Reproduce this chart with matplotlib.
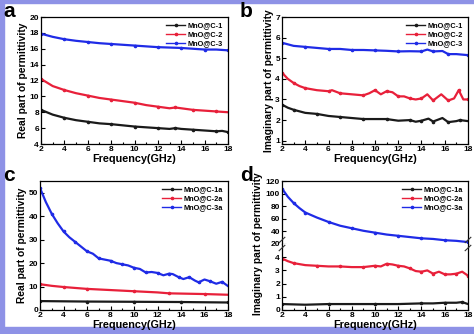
import matplotlib
matplotlib.use("Agg")
import matplotlib.pyplot as plt
from matplotlib.ticker import MultipleLocator
from matplotlib.patches import Rectangle

plt.rcParams['font.family'] = ['Liberation Sans', 'DejaVu Sans']
plt.rcParams['font.weight'] = 'bold'

# ---------------- data ----------------
# panel a (real part)
a_x1 = [2, 3, 4, 5, 6, 7, 8, 9, 10, 11, 12, 13, 13.5, 14, 15, 16, 17, 17.5, 18]
a_y1 = [8.3, 7.7, 7.3, 7.0, 6.8, 6.6, 6.5, 6.35, 6.2, 6.1, 6.0, 5.9, 6.0, 5.9, 5.8, 5.7, 5.6, 5.65, 5.5]
a_x2 = [2, 3, 4, 5, 6, 7, 8, 9, 10, 11, 12, 13, 13.5, 14, 15, 16, 17, 18]
a_y2 = [12.2, 11.3, 10.8, 10.4, 10.1, 9.8, 9.6, 9.4, 9.2, 8.9, 8.7, 8.5, 8.6, 8.5, 8.3, 8.2, 8.1, 8.0]
a_x3 = [2, 3, 4, 5, 6, 7, 8, 9, 10, 11, 12, 13, 14, 15, 16, 17, 18]
a_y3 = [17.9, 17.5, 17.2, 17.0, 16.85, 16.7, 16.6, 16.5, 16.4, 16.3, 16.2, 16.15, 16.1, 16.0, 15.9, 15.9, 15.8]

# panel b (imaginary part)
b_x1 = [2, 2.5, 3, 4, 5, 6, 7, 8, 9, 10, 11, 12, 13, 13.5, 14, 14.6, 15, 15.8, 16.3, 17, 17.3, 18]
b_y1 = [2.75, 2.6, 2.5, 2.35, 2.3, 2.2, 2.15, 2.1, 2.05, 2.05, 2.05, 1.97, 2.0, 1.92, 1.97, 2.07, 1.93, 2.1, 1.9, 1.95, 2.0, 1.95]
b_x2 = [2, 2.5, 3, 3.5, 4, 5, 6, 6.3, 7, 8, 9, 9.5, 10, 10.5, 11, 11.5, 12, 12.5, 13, 13.5, 14, 14.5, 15, 15.7, 16.3, 16.8, 17.2, 17.6, 18]
b_y2 = [4.3, 4.0, 3.8, 3.65, 3.55, 3.45, 3.4, 3.45, 3.3, 3.25, 3.2, 3.3, 3.45, 3.25, 3.4, 3.35, 3.15, 3.15, 3.05, 3.0, 3.05, 3.25, 2.95, 3.25, 2.95, 3.05, 3.45, 3.0, 3.0]
b_x3 = [2, 3, 4, 5, 6, 7, 8, 9, 10, 11, 12, 13, 14, 14.5, 15, 15.8, 16.3, 17, 18]
b_y3 = [5.75, 5.6, 5.55, 5.5, 5.45, 5.45, 5.4, 5.4, 5.38, 5.36, 5.33, 5.34, 5.33, 5.42, 5.33, 5.35, 5.2, 5.2, 5.15]

# panel c (real part, "a" samples)
c_x1 = [2, 4, 6, 8, 10, 12, 14, 16, 18]
c_y1 = [3.8, 3.7, 3.6, 3.55, 3.5, 3.45, 3.4, 3.3, 3.2]
c_x2 = [2, 3, 4, 5, 6, 8, 10, 12, 13, 14, 16, 18]
c_y2 = [11.0, 10.3, 9.8, 9.4, 9.0, 8.5, 8.0, 7.5, 7.1, 7.0, 6.8, 6.5]
c_x3 = [2, 2.5, 3, 3.5, 4, 4.5, 5, 5.5, 6, 6.5, 7, 7.5, 8, 8.5, 9, 9.5, 10, 10.5, 11, 11.5, 12,
        12.5, 13, 13.3, 13.8, 14.2, 14.7, 15.2, 15.5, 16, 16.5, 17, 17.5, 18]
c_y3 = [52, 46, 41, 37, 33.5, 31, 29, 27, 25, 24, 22, 21.5, 21, 20, 19.5, 19, 18, 17.5, 16, 16.2, 15.8,
        14.8, 15.5, 15.3, 14, 13.2, 14, 12.5, 11.8, 13, 12.2, 11.2, 12, 10.2]

# panel d (imaginary part, "a" samples, broken axis)
d_x1 = [2, 4, 6, 8, 10, 12, 14, 15, 16, 17, 17.5, 18]
d_y1 = [0.45, 0.4, 0.45, 0.45, 0.45, 0.45, 0.5, 0.5, 0.55, 0.55, 0.6, 0.45]
d_x2 = [2, 2.5, 3, 4, 5, 6, 7, 8, 9, 9.5, 10, 10.5, 11, 11.5, 12, 12.5, 13, 13.5, 14, 14.5, 15,
        15.5, 16, 16.5, 17, 17.5, 18]
d_y2 = [3.9, 3.7, 3.55, 3.4, 3.35, 3.3, 3.3, 3.25, 3.25, 3.3, 3.35, 3.3, 3.5, 3.45, 3.35, 3.3, 3.15,
        2.95, 2.9, 3.0, 2.75, 2.9, 2.7, 2.7, 2.75, 2.9, 2.6]
d_x3 = [2, 2.5, 3, 3.5, 4, 5, 6, 7, 8, 9, 10, 11, 12, 13, 14, 15, 16, 17, 18]
d_y3 = [108, 95, 85, 77, 70, 62, 55, 49, 45, 41, 38, 35, 33, 31, 29, 28, 26, 25, 23]

labels_top = ['MnO@C-1', 'MnO@C-2', 'MnO@C-3']
labels_bot = ['MnO@C-1a', 'MnO@C-2a', 'MnO@C-3a']
colors = ['#1a1a1a', '#e8203a', '#1f2be6']

W, H = 474, 334
fig = plt.figure(figsize=(W / 100, H / 100), dpi=100)
fig.patch.set_facecolor('white')

# lavender frame
border = '#8e92e6'
fig.add_artist(Rectangle((0, 0), 4 / W, 1, transform=fig.transFigure, color=border, zorder=0))
fig.add_artist(Rectangle((0, 1 - 3 / H), 1, 3 / H, transform=fig.transFigure, color=border, zorder=0))
fig.add_artist(Rectangle((0, 0), 1, 7 / H, transform=fig.transFigure, color=border, zorder=0))


def ax_at(left, right, top, bottom):
    return fig.add_axes([left / W, 1 - bottom / H, (right - left) / W, (bottom - top) / H])


TICK_FS = 6
LBL_FS = 7.4


def style(ax, ymajor, yminor=None, show_x=True):
    ax.set_xlim(2, 18)
    ax.xaxis.set_major_locator(MultipleLocator(2))
    ax.xaxis.set_minor_locator(MultipleLocator(1))
    ax.yaxis.set_major_locator(MultipleLocator(ymajor))
    if yminor:
        ax.yaxis.set_minor_locator(MultipleLocator(yminor))
    ax.tick_params(which='both', direction='in', labelsize=TICK_FS, pad=1.5, width=0.8)
    ax.tick_params(which='major', length=3)
    ax.tick_params(which='minor', length=1.5)
    for lab in ax.get_xticklabels() + ax.get_yticklabels():
        lab.set_fontweight('bold')
    for s in ax.spines.values():
        s.set_linewidth(0.9)
    if show_x:
        ax.set_xlabel('Frequency(GHz)', fontsize=LBL_FS + 0.4, fontweight='bold', labelpad=0.5)


def plot3(ax, xs, ys, labels):
    for x, y, lab, c in zip(xs, ys, labels, colors):
        ax.plot(x, y, color=c, lw=1.6, marker='o', ms=1.6, markevery=2, label=lab)


def legend(ax, handles=None, labels=None):
    kw = dict(loc='upper right', frameon=False, fontsize=5.3, handlelength=2.6,
              handletextpad=0.3, labelspacing=0.25, borderaxespad=0.3)
    if handles is not None:
        leg = ax.legend(handles, labels, **kw)
    else:
        leg = ax.legend(**kw)
    for t in leg.get_texts():
        t.set_fontweight('bold')
    for l in leg.get_lines():
        l.set_linewidth(1.0)


# panel a
ax = ax_at(41, 228, 17, 144)
plot3(ax, [a_x1, a_x2, a_x3], [a_y1, a_y2, a_y3], labels_top)
ax.set_ylim(4, 20)
style(ax, 2)
ax.set_ylabel('Real part of permittivity', fontsize=LBL_FS, fontweight='bold', labelpad=1)
legend(ax)

# panel b
ax = ax_at(282, 468, 17, 144)
plot3(ax, [b_x1, b_x2, b_x3], [b_y1, b_y2, b_y3], labels_top)
ax.set_ylim(0.84, 7)
style(ax, 1)
ax.set_ylabel('Imaginary part of permittivity', fontsize=LBL_FS, fontweight='bold', labelpad=1)
legend(ax)

# panel c
ax = ax_at(40, 228, 181, 310)
plot3(ax, [c_x1, c_x2, c_x3], [c_y1, c_y2, c_y3], labels_bot)
ax.set_ylim(0, 55)
style(ax, 10)
ax.set_ylabel('Real part of permittivity', fontsize=LBL_FS, fontweight='bold', labelpad=1)
legend(ax)

# panel d (broken axis)
axu = ax_at(282, 468, 181, 244)
axl = ax_at(282, 468, 244, 310)
lines = []
for x, y, lab, c, tgt in zip([d_x1, d_x2, d_x3], [d_y1, d_y2, d_y3], labels_bot, colors,
                             [axl, axl, axu]):
    ln, = tgt.plot(x, y, color=c, lw=1.6, marker='o', ms=1.6, markevery=2, label=lab)
    lines.append(ln)
axu.set_ylim(20, 120)
axl.set_ylim(0, 5)
style(axu, 20, show_x=False)
style(axl, 1)
axl.set_yticks([0, 1, 2, 3, 4])
axu.tick_params(axis='x', which='both', bottom=False, labelbottom=False)
axu.spines['bottom'].set_visible(False)
axl.spines['top'].set_visible(False)
axu.set_ylabel('Imaginary part of permittivity', fontsize=LBL_FS, fontweight='bold', labelpad=1)
axu.yaxis.set_label_coords(-0.1, 0.0)
legend(axu, lines, labels_bot)
# break marks
for xb in (0, 1):
    for dy in (-0.012, 0.012):
        fig.add_artist(plt.Line2D([ (282 if xb == 0 else 468) / W - 0.006, (282 if xb == 0 else 468) / W + 0.006],
                                  [1 - 244 / H + dy - 0.008, 1 - 244 / H + dy + 0.008],
                                  color='#333333', lw=0.8, transform=fig.transFigure))

# panel letters
for txt, px, py in [('a', 3, 17), ('b', 240, 17), ('c', 3, 181), ('d', 240, 181)]:
    fig.text(px / W, 1 - py / H, txt, fontsize=15, fontweight='bold', ha='left', va='baseline')

fig.savefig('out.png', dpi=100, facecolor=fig.get_facecolor())
